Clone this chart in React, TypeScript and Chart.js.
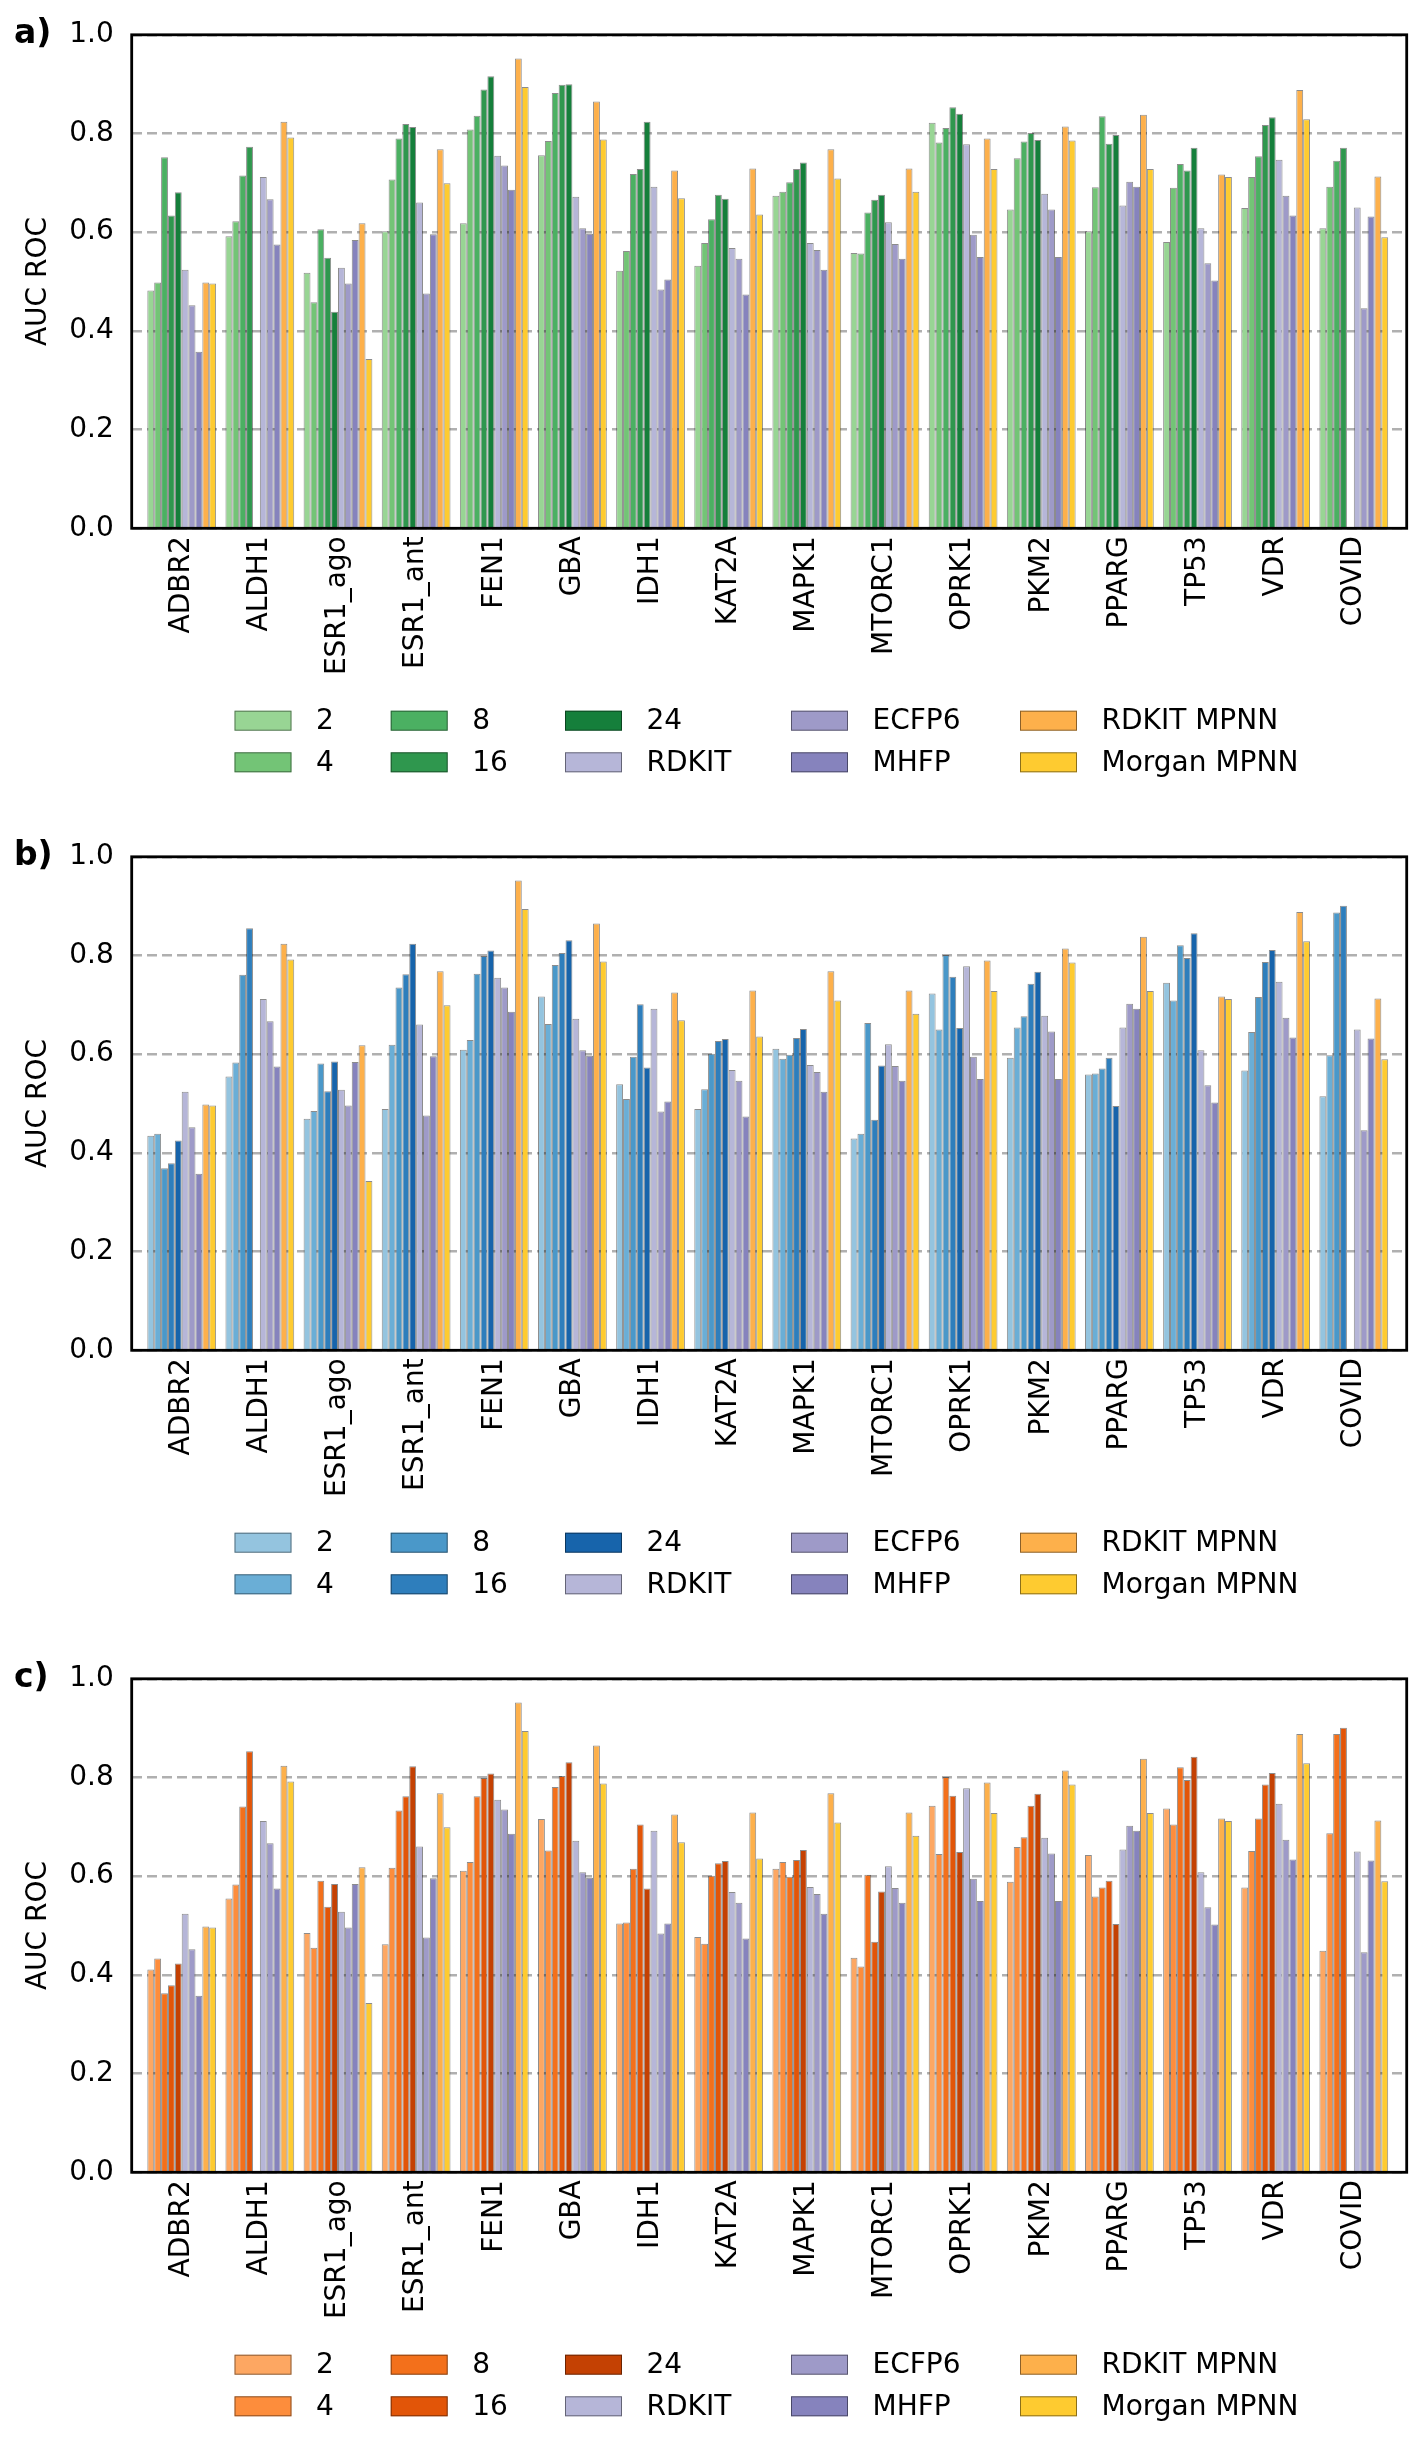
import { useEffect, useRef } from 'react';
import { Chart, registerables } from 'chart.js';

Chart.register(...registerables);

// ---- data -----------------------------------------------------------------

const TARGETS = [
  'ADBR2', 'ALDH1', 'ESR1_ago', 'ESR1_ant', 'FEN1', 'GBA', 'IDH1', 'KAT2A',
  'MAPK1', 'MTORC1', 'OPRK1', 'PKM2', 'PPARG', 'TP53', 'VDR', 'COVID',
];
const DIM_LABELS = ['2', '4', '8', '16', '24'];
const BASELINE_LABELS = ['RDKIT', 'ECFP6', 'MHFP', 'RDKIT MPNN', 'Morgan MPNN'];
const Y_TICKS = [0, 0.2, 0.4, 0.6, 0.8, 1.0];

// baselines (identical in every panel)
const RDKIT = [0.524, 0.712, 0.528, 0.660, 0.755, 0.672, 0.692, 0.568, 0.578, 0.620, 0.778, 0.678, 0.654, 0.608, 0.747, 0.650];
const ECFP6 = [0.452, 0.667, 0.496, 0.476, 0.735, 0.608, 0.484, 0.546, 0.564, 0.576, 0.595, 0.646, 0.702, 0.537, 0.674, 0.446];
const MHFP = [0.358, 0.575, 0.584, 0.596, 0.686, 0.597, 0.504, 0.474, 0.524, 0.546, 0.550, 0.550, 0.692, 0.502, 0.634, 0.632];
const RDKIT_MPNN = [0.498, 0.824, 0.618, 0.768, 0.952, 0.865, 0.725, 0.729, 0.768, 0.729, 0.790, 0.814, 0.838, 0.717, 0.888, 0.713];
const MORGAN_MPNN = [0.496, 0.792, 0.343, 0.699, 0.894, 0.788, 0.669, 0.636, 0.709, 0.682, 0.728, 0.786, 0.728, 0.712, 0.829, 0.590];

// panel a
const A_DIM2 = [0.482, 0.592, 0.518, 0.602, 0.618, 0.756, 0.522, 0.532, 0.674, 0.558, 0.822, 0.646, 0.602, 0.580, 0.649, 0.608];
const A_DIM4 = [0.498, 0.622, 0.458, 0.707, 0.808, 0.785, 0.562, 0.578, 0.682, 0.557, 0.782, 0.750, 0.691, 0.690, 0.712, 0.692];
const A_DIM8 = [0.752, 0.715, 0.606, 0.790, 0.836, 0.882, 0.718, 0.626, 0.701, 0.640, 0.811, 0.784, 0.835, 0.738, 0.754, 0.745];
const A_DIM16 = [0.634, 0.773, 0.548, 0.819, 0.889, 0.899, 0.728, 0.676, 0.728, 0.666, 0.853, 0.801, 0.779, 0.725, 0.817, 0.771];
const A_DIM24 = [0.681, null, 0.439, 0.813, 0.916, 0.900, 0.824, 0.668, 0.741, 0.676, 0.840, 0.787, 0.797, 0.771, 0.833, null];

// panel b
const B_DIM2 = [0.435, 0.555, 0.469, 0.489, 0.609, 0.717, 0.539, 0.489, 0.611, 0.429, 0.723, 0.593, 0.559, 0.745, 0.567, 0.515];
const B_DIM4 = [0.439, 0.583, 0.485, 0.619, 0.629, 0.661, 0.509, 0.529, 0.591, 0.439, 0.650, 0.654, 0.561, 0.709, 0.645, 0.598];
const B_DIM8 = [0.369, 0.761, 0.581, 0.735, 0.763, 0.781, 0.595, 0.601, 0.599, 0.663, 0.801, 0.677, 0.571, 0.821, 0.716, 0.887];
const B_DIM16 = [0.379, 0.855, 0.525, 0.762, 0.799, 0.805, 0.701, 0.627, 0.633, 0.467, 0.757, 0.743, 0.593, 0.795, 0.787, 0.901];
const B_DIM24 = [0.425, null, 0.585, 0.824, 0.810, 0.831, 0.573, 0.631, 0.651, 0.577, 0.653, 0.767, 0.495, 0.845, 0.811, null];

// panel c
const C_DIM2 = [0.411, 0.555, 0.485, 0.462, 0.611, 0.716, 0.504, 0.477, 0.615, 0.435, 0.743, 0.589, 0.643, 0.737, 0.577, 0.449];
const C_DIM4 = [0.433, 0.583, 0.455, 0.617, 0.629, 0.652, 0.506, 0.463, 0.629, 0.417, 0.645, 0.659, 0.559, 0.705, 0.651, 0.687];
const C_DIM8 = [0.363, 0.741, 0.591, 0.733, 0.762, 0.781, 0.615, 0.601, 0.599, 0.603, 0.801, 0.679, 0.577, 0.821, 0.717, 0.888];
const C_DIM16 = [0.379, 0.853, 0.538, 0.762, 0.799, 0.803, 0.705, 0.626, 0.633, 0.467, 0.763, 0.743, 0.591, 0.795, 0.786, 0.901];
const C_DIM24 = [0.423, null, 0.584, 0.823, 0.808, 0.831, 0.575, 0.631, 0.653, 0.569, 0.649, 0.767, 0.503, 0.842, 0.809, null];

// ---- styling ----------------------------------------------------------------

const GREENS = ['#98d594', '#73c476', '#4bb062', '#2f974e', '#157f3b'];
const BLUES = ['#94c4df', '#6aaed6', '#4a98c9', '#2e7ebc', '#1764ab'];
const ORANGES = ['#fda762', '#fd8d3c', '#f3701b', '#e25508', '#c44103'];
const BASE_COLORS = ['#b6b6d8', '#9e9ac8', '#8683bd', '#fdb04b', '#fecb30'];

const FONT = "'DejaVu Sans', 'Liberation Sans', sans-serif";
const EDGE = 'rgba(0,0,0,0.45)';

const W = 1423;
const H = 822;

const LEGEND_COL_X = [234.5, 390.7, 565, 791, 1020];
const LEGEND_ROW_Y = [720.7, 762.3];

// frame, panel letter and a five-column legend drawn on the canvas
const decorPlugin = {
  id: 'decor',
  afterDraw(chart: any, _args: any, opts: any) {
    const { ctx, chartArea } = chart;
    ctx.save();
    ctx.strokeStyle = '#000';
    ctx.lineWidth = 2.8;
    ctx.strokeRect(chartArea.left, chartArea.top, chartArea.right - chartArea.left, chartArea.bottom - chartArea.top);

    ctx.fillStyle = '#000';
    ctx.font = `bold 33px ${FONT}`;
    ctx.textBaseline = 'alphabetic';
    ctx.textAlign = 'left';
    ctx.fillText(opts.letter + ')', 14, 43);

    ctx.font = `28px ${FONT}`;
    ctx.textBaseline = 'middle';
    chart.data.datasets.forEach((ds: any, i: number) => {
      const col = Math.floor(i / 2);
      const row = i % 2;
      const x = LEGEND_COL_X[col];
      const y = LEGEND_ROW_Y[row];
      ctx.fillStyle = ds.backgroundColor;
      ctx.fillRect(x, y - 10, 57, 20);
      ctx.strokeStyle = EDGE;
      ctx.lineWidth = 1;
      ctx.strokeRect(x + 0.5, y - 9.5, 56, 19);
      ctx.fillStyle = '#000';
      ctx.fillText(ds.label, x + 81.5, y + 1);
    });
    ctx.restore();
  },
};

function Panel({ letter, dims, colors }: { letter: string; dims: (number | null)[][]; colors: string[] }) {
  const ref = useRef<HTMLCanvasElement | null>(null);

  useEffect(() => {
    if (!ref.current) return;
    const series = [...dims, RDKIT, ECFP6, MHFP, RDKIT_MPNN, MORGAN_MPNN];
    const labels = [...DIM_LABELS, ...BASELINE_LABELS];
    const fills = [...colors, ...BASE_COLORS];

    const chart = new Chart(ref.current, {
      type: 'bar',
      data: {
        datasets: series.map((vals, k) => ({
          label: labels[k],
          data: vals.map((v, i) => ({ x: i, y: v })),
          backgroundColor: fills[k],
          borderColor: EDGE,
          borderWidth: 1,
          categoryPercentage: 0.88,
          barPercentage: 1,
        })),
      },
      options: {
        responsive: false,
        animation: false,
        devicePixelRatio: 1,
        layout: { padding: { top: 28.3, right: 16.3, left: 0, bottom: 0 } },
        plugins: {
          legend: { display: false },
          tooltip: { enabled: false },
          decor: { letter },
        } as any,
        scales: {
          x: {
            type: 'linear',
            offset: false,
            min: -0.64,
            max: 15.677,
            grid: { display: false, drawTicks: false },
            border: { display: false },
            afterBuildTicks: (s: any) => {
              s.ticks = TARGETS.map((_, i) => ({ value: i }));
            },
            afterFit: (s: any) => {
              s.height = H - 528.3;
            },
            ticks: {
              autoSkip: false,
              minRotation: 90,
              maxRotation: 90,
              padding: 8,
              color: '#000',
              font: { family: FONT, size: 28 },
              callback: (v: any) => TARGETS[Math.round(Number(v))] ?? '',
            },
          },
          y: {
            type: 'linear',
            min: 0,
            max: 1,
            afterBuildTicks: (s: any) => {
              s.ticks = Y_TICKS.map((v) => ({ value: v }));
            },
            afterFit: (s: any) => {
              s.width = 131.7;
            },
            grid: { color: '#b0b0b0', lineWidth: 2.6, drawTicks: false },
            border: { display: false, dash: [10, 5] },
            ticks: {
              padding: 18,
              color: '#000',
              font: { family: FONT, size: 28 },
              callback: (v: any) => Number(v).toFixed(1),
            },
            title: {
              display: true,
              text: 'AUC ROC',
              color: '#000',
              font: { family: FONT, size: 28 },
              padding: { top: 22, bottom: 0 },
            },
          },
        },
      } as any,
      plugins: [decorPlugin],
    });
    return () => chart.destroy();
  }, [letter, dims, colors]);

  return <canvas ref={ref} width={W} height={H} style={{ display: 'block', width: W, height: H }} />;
}

const PANEL_A = [A_DIM2, A_DIM4, A_DIM8, A_DIM16, A_DIM24];
const PANEL_B = [B_DIM2, B_DIM4, B_DIM8, B_DIM16, B_DIM24];
const PANEL_C = [C_DIM2, C_DIM4, C_DIM8, C_DIM16, C_DIM24];

export default function App() {
  return (
    <div style={{ position: 'absolute', left: 0, top: 0, width: W, height: 2450, background: '#fff' }}>
      <Panel letter="a" dims={PANEL_A} colors={GREENS} />
      <Panel letter="b" dims={PANEL_B} colors={BLUES} />
      <Panel letter="c" dims={PANEL_C} colors={ORANGES} />
    </div>
  );
}
